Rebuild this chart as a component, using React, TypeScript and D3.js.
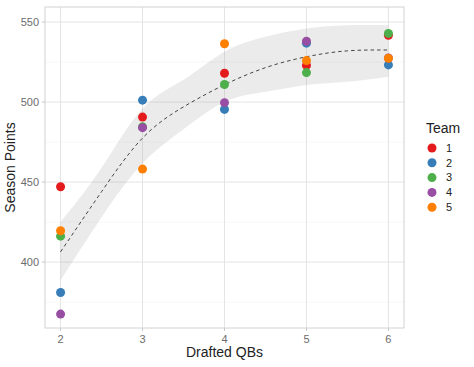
import React from 'react';
import * as d3 from 'd3';

// data
const drafted = [2, 3, 4, 5, 6];
const teams = ['1', '2', '3', '4', '5'];
const team1 = [447.1, 490.6, 518, 522.9, 541.7];
const team2 = [381, 501.2, 495.4, 536.8, 523.2];
const team3 = [416.2, 484.5, 511, 518.4, 542.9];
const team4 = [367.5, 484, 499.6, 538, 527.5];
const team5 = [419.6, 458.1, 536.4, 525.9, 527.3];
const teamValues = [team1, team2, team3, team4, team5];

// loess fit with its confidence band
const fitX = [2, 2.5, 3, 3.5, 4, 4.5, 5, 5.5, 6];
const fitY = [406.4, 444, 477.5, 497, 510.8, 521.5, 528.3, 532, 532.5];
const fitLo = [388.7, 428, 461.7, 483, 500, 506.4, 510.6, 512.7, 515.8];
const fitHi = [425.2, 459, 496, 514, 531.5, 540.8, 546, 548, 548];

const yTicks = [400, 450, 500, 550];
const yMinor = [375, 425, 475, 525];
const xTicks = [2, 3, 4, 5, 6];

const colors = ['#E41A1C', '#377EB8', '#4DAF4A', '#984EA3', '#FF7F00'];

const margin = { top: 7, right: 70, bottom: 39, left: 45 };
const W = 474, H = 367;
const width = W - margin.left - margin.right;
const height = H - margin.top - margin.bottom;
const font = 'Liberation Sans, Arial, sans-serif';

export default function App() {
  const x = d3.scaleLinear().domain([1.81, 6.19]).range([0, width]);
  const y = d3.scaleLinear().domain([358.8, 559.4]).range([height, 0]);

  const band = d3.area<number>()
    .x((d, i) => x(fitX[i]))
    .y0((d, i) => y(fitLo[i]))
    .y1((d) => y(d))
    .curve(d3.curveNatural)(fitHi);
  const line = d3.line<number>()
    .x((d, i) => x(fitX[i]))
    .y((d) => y(d))
    .curve(d3.curveNatural)(fitY);

  return (
    <svg width={W} height={H} style={{ position: 'absolute', left: 0, top: 0, background: 'white' }} fontFamily={font}>
      <g transform={`translate(${margin.left},${margin.top})`}>
        {yMinor.map((v) => (
          <line key={'m' + v} x1={0} x2={width} y1={y(v)} y2={y(v)} stroke="#f1f1f1" strokeWidth={0.6} />
        ))}
        {yTicks.map((v) => (
          <line key={'y' + v} x1={0} x2={width} y1={y(v)} y2={y(v)} stroke="#e4e4e4" strokeWidth={1} />
        ))}
        {xTicks.map((v) => (
          <line key={'x' + v} x1={x(v)} x2={x(v)} y1={0} y2={height} stroke="#e4e4e4" strokeWidth={1} />
        ))}
        <path d={band || ''} fill="#999" fillOpacity={0.2} />
        <path d={line || ''} fill="none" stroke="#444" strokeWidth={1} strokeDasharray="3.5,3" />
        {teamValues.map((vals, t) =>
          vals.map((v, i) => (
            <circle key={t + '-' + i} cx={x(drafted[i])} cy={y(v)} r={4.5} fill={colors[t]} />
          ))
        )}
        <rect x={0} y={0} width={width} height={height} fill="none" stroke="#d2d2d2" strokeWidth={1} />
        {yTicks.map((v) => (
          <g key={'yt' + v}>
            <line x1={-3} x2={0} y1={y(v)} y2={y(v)} stroke="#c8c8c8" />
            <text x={-6} y={y(v)} dy="0.35em" textAnchor="end" fontSize={11} fill="#6b6b6b">{v}</text>
          </g>
        ))}
        {xTicks.map((v) => (
          <g key={'xt' + v}>
            <line x1={x(v)} x2={x(v)} y1={height} y2={height + 3} stroke="#c8c8c8" />
            <text x={x(v)} y={height + 15} textAnchor="middle" fontSize={11} fill="#6b6b6b">{v}</text>
          </g>
        ))}
        <text x={width / 2} y={height + 29} textAnchor="middle" fontSize={14} fill="#222">Drafted QBs</text>
        <text transform={`translate(${-30},${height / 2}) rotate(-90)`} textAnchor="middle" fontSize={14} fill="#222">Season Points</text>
      </g>
      <g transform="translate(414,0)">
        <text x={12} y={133} fontSize={14} fill="#222">Team</text>
        {teams.map((t, i) => (
          <g key={t} transform={`translate(0,${148 + i * 14.8})`}>
            <circle cx={18} cy={0} r={4.5} fill={colors[i]} />
            <text x={32} y={0} dy="0.35em" fontSize={11} fill="#222">{t}</text>
          </g>
        ))}
      </g>
    </svg>
  );
}
